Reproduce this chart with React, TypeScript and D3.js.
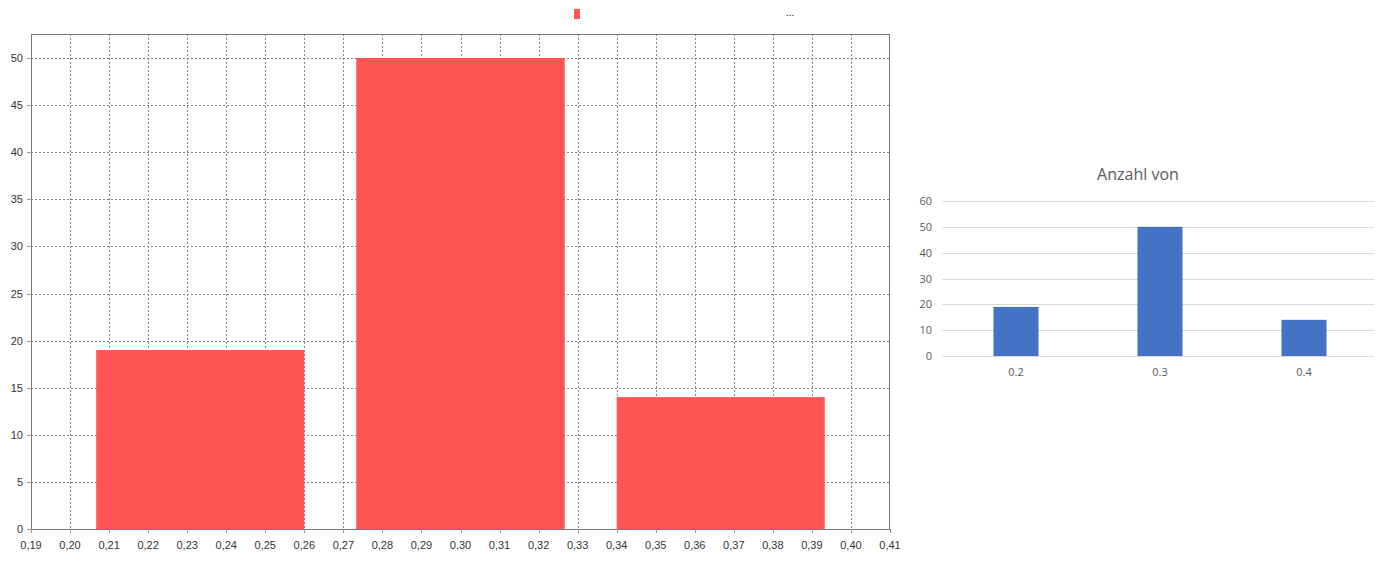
import * as d3 from "d3";
import React from "react";

// left histogram (bins in x units)
const binStart = [0.2067, 0.2733, 0.34];
const binEnd = [0.26, 0.3267, 0.3933];
const binCount = [19, 50, 14];
const xTicks = d3.range(19, 42).map((v) => v / 100);
const yTicks = [0, 5, 10, 15, 20, 25, 30, 35, 40, 45, 50];

// right (excel style) chart
const categories = ["0.2", "0.3", "0.4"];
const counts = [19, 50, 14];
const rightTicks = [0, 10, 20, 30, 40, 50, 60];

const W = 1386;
const H = 565;

function App() {
    // histogram geometry
    const left = 31, right = 890, top = 34, bottom = 529;
    const x = d3.scaleLinear().domain([0.19, 0.41]).range([left, right]);
    const y = d3.scaleLinear().domain([0, 52.55]).range([bottom, top]);
    const fmt = (v: number) => v.toFixed(2).replace(".", ",");

    // excel chart geometry
    const rl = 942, rr = 1374, rt = 201, rb = 356;
    const bx = d3.scaleBand().domain(categories).range([rl + 2, rr + 2]).paddingInner(0.6875).paddingOuter(0.34375);
    const by = d3.scaleLinear().domain([0, 60]).range([rb, rt]);

    return (
        <svg width={W} height={H} style={{ position: "absolute", left: 0, top: 0 }}>
            <rect width={W} height={H} fill="#fff" />

            {/* legend */}
            <rect x={574} y={9} width={6} height={10} fill="#ff5555" />
            <text x={786} y={16} fontSize={10} fontFamily="Liberation Sans, Arial" fill="#000">...</text>

            {/* grid */}
            <g stroke="#888" strokeWidth={1} strokeDasharray="2,2">
                {xTicks.slice(1, -1).map((t) => (
                    <line key={"gx" + t} x1={Math.round(x(t)) + 0.5} x2={Math.round(x(t)) + 0.5} y1={top} y2={bottom} />
                ))}
                {yTicks.slice(1).map((t) => (
                    <line key={"gy" + t} x1={left} x2={right} y1={Math.round(y(t)) + 0.5} y2={Math.round(y(t)) + 0.5} />
                ))}
            </g>

            {/* bars */}
            {binCount.map((c, i) => (
                <rect key={"b" + i} x={x(binStart[i])} width={x(binEnd[i]) - x(binStart[i])} y={y(c)} height={y(0) - y(c)} fill="#ff5555" />
            ))}

            {/* frame */}
            <rect x={left + 0.5} y={top + 0.5} width={right - left - 1} height={bottom - top} fill="none" stroke="#777" strokeWidth={1} />

            {/* x ticks */}
            <g fontFamily="Liberation Sans, Arial" fontSize={11} fill="#333">
                {xTicks.map((t) => (
                    <g key={"tx" + t}>
                        <line x1={Math.round(x(t)) + 0.5} x2={Math.round(x(t)) + 0.5} y1={bottom} y2={bottom + 4} stroke="#999" />
                        <text x={x(t)} y={bottom + 20} textAnchor="middle">{fmt(t)}</text>
                    </g>
                ))}
                {yTicks.map((t) => (
                    <g key={"ty" + t}>
                        <line x1={left - 4} x2={left} y1={Math.round(y(t)) + 0.5} y2={Math.round(y(t)) + 0.5} stroke="#999" />
                        <text x={left - 8} y={y(t) + 4} textAnchor="end">{t}</text>
                    </g>
                ))}
            </g>

            {/* right chart */}
            <text x={(rl + rr) / 2 - 20} y={180} textAnchor="middle" fontFamily="Open Sans, Noto Sans" fontSize={16} fill="#595959">Anzahl von</text>
            <g stroke="#d9d9d9" strokeWidth={1}>
                {rightTicks.map((t) => (
                    <line key={"rg" + t} x1={rl} x2={rr} y1={Math.round(by(t)) + 0.5} y2={Math.round(by(t)) + 0.5} />
                ))}
            </g>
            {counts.map((c, i) => (
                <rect key={"rb" + i} x={bx(categories[i])} width={bx.bandwidth()} y={by(c)} height={by(0) - by(c)} fill="#4472c4" />
            ))}
            <g fontFamily="Open Sans, Noto Sans" fontSize={11} fill="#595959">
                {rightTicks.map((t) => (
                    <text key={"rt" + t} x={932} y={by(t) + 4} textAnchor="end">{t}</text>
                ))}
                {categories.map((c) => (
                    <text key={"rc" + c} x={(bx(c) || 0) + bx.bandwidth() / 2} y={376} textAnchor="middle">{c}</text>
                ))}
            </g>
        </svg>
    );
}

export default App;
